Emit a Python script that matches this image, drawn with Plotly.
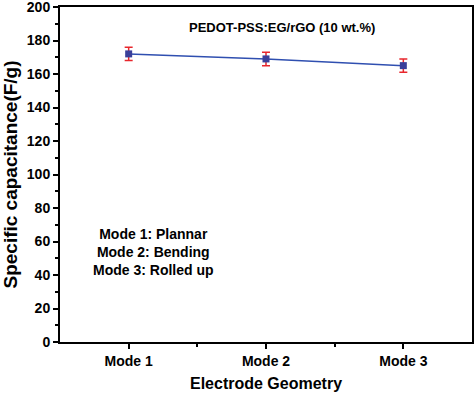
import plotly.graph_objects as go

categories = ["Mode 1", "Mode 2", "Mode 3"]
capacitance = [172, 169, 165]
errors = [4, 4, 4]
y_ticks = [0, 20, 40, 60, 80, 100, 120, 140, 160, 180, 200]

fig = go.Figure()
fig.add_trace(go.Scatter(
    x=[0, 1, 2], y=capacitance,
    mode="lines+markers",
    line=dict(color="#2f4fb0", width=1.5),
    marker=dict(symbol="square", size=7, color="#3a3f9a"),
    error_y=dict(type="data", array=errors, color="#e8262c", thickness=1.5, width=4),
    showlegend=False,
))

font = "Liberation Sans, Arial, sans-serif"
fig.update_layout(
    width=474, height=395,
    margin=dict(l=60, r=2, t=7, b=53),
    plot_bgcolor="white", paper_bgcolor="white",
    font=dict(family=font, color="black"),
)
fig.update_xaxes(
    range=[-0.5, 2.5], tickvals=[0, 1, 2], ticktext=[f"<b>{c}</b>" for c in categories],
    ticks="outside", ticklen=5, tickwidth=1.5, tickcolor="black",
    minor=dict(tickvals=[0.5, 1.5], ticks="outside", ticklen=3, tickwidth=1.5, tickcolor="black"),
    showline=True, linewidth=2, linecolor="black", mirror=True,
    showgrid=False, zeroline=False, automargin=False, ticklabeloverflow="allow",
    tickfont=dict(size=14, family=font),
    title=dict(text="<b>Electrode Geometry</b>", font=dict(size=16, family=font), standoff=10),
)
fig.update_yaxes(
    range=[0, 200], tickvals=y_ticks, ticktext=[f"<b>{v}</b>" for v in y_ticks],
    ticks="outside", ticklen=5, tickwidth=1.5, tickcolor="black",
    minor=dict(dtick=10, ticks="outside", ticklen=3, tickwidth=1.5, tickcolor="black"),
    showline=True, linewidth=2, linecolor="black", mirror=True,
    showgrid=False, zeroline=False, automargin=False, ticklabeloverflow="allow",
    tickfont=dict(size=14, family=font),
    title=dict(text="<b>Specific capacitance(F/g)</b>", font=dict(size=19, family=font), standoff=4),
)
fig.add_annotation(
    xref="x", yref="y", x=1.12, y=188, text="<b>PEDOT-PSS:EG/rGO (10 wt.%)</b>",
    showarrow=False, font=dict(size=13, family=font),
)
fig.add_annotation(
    xref="x", yref="y", x=0.18, y=54,
    text="<b>Mode 1: Plannar<br>Mode 2: Bending<br>Mode 3: Rolled up</b>",
    showarrow=False, align="center", font=dict(size=14, family=font),
)
fig.write_html(
    "out.html",
    config={"displayModeBar": False},
    post_script="document.body.style.margin='0';document.body.style.overflow='hidden';",
)
